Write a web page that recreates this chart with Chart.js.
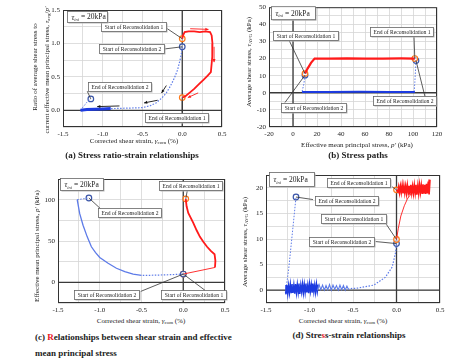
<!DOCTYPE html>
<html>
<head>
<meta charset="utf-8">
<script src="https://cdn.jsdelivr.net/npm/chart.js@4.4.1/dist/chart.umd.min.js"></script>
<style>
  body { margin: 0; width: 474px; height: 363px; background: #fff; position: relative; overflow: hidden;
         font-family: "Liberation Serif", "DejaVu Serif", serif; color: #222; }
  canvas { position: absolute; }
  .t { position: absolute; white-space: nowrap; font-size: 7px; line-height: 1; }
  .t sub { font-size: 5px; vertical-align: -1px; }
  .xl { transform: translate(-50%, -50%); }
  .yl { transform: translate(-50%, -50%) rotate(-90deg); }
  .cap { font-weight: bold; font-size: 9px; }
</style>
</head>
<body>
<canvas id="ca" width="237" height="140" style="left:0;top:0"></canvas>
<canvas id="cb" width="237" height="140" style="left:237px;top:0"></canvas>
<canvas id="cc" width="237" height="150" style="left:0;top:165px"></canvas>
<canvas id="cd" width="237" height="150" style="left:237px;top:165px"></canvas>

<!-- axis titles and captions -->
<div class="t yl" style="left:35px;top:67px">Ratio of average shear stress to</div>
<div class="t yl" style="left:47px;top:70px">current effective mean principal stress, <i>τ</i><sub>avg</sub>/<i>p'</i></div>
<div class="t xl" style="left:134px;top:141px">Corrected shear strain, <i>γ</i><sub>com</sub> (%)</div>
<div class="t xl cap" style="left:132px;top:155px">(a) Stress ratio-strain relationships</div>

<div class="t yl" style="left:249px;top:62px">Average shear stress, <i>τ</i><sub>AVG</sub> (kPa)</div>
<div class="t xl" style="left:357px;top:145px">Effective mean principal stress, <i>p'</i> (kPa)</div>
<div class="t xl cap" style="left:358px;top:155px">(b) Stress paths</div>

<div class="t yl" style="left:37px;top:246px">Effective mean principal stress, <i>p'</i> (kPa)</div>
<div class="t xl" style="left:141px;top:321px">Corrected shear strain, <i>γ</i><sub>com</sub> (%)</div>
<div class="t cap" style="left:35px;top:333px">(c) <span style="color:#e8141e">R</span>elationships between shear strain and effective</div>
<div class="t cap" style="left:35px;top:349px">mean principal stress</div>

<div class="t yl" style="left:245px;top:242px">Average shear stress, <i>τ</i><sub>AVG</sub> (kPa)</div>
<div class="t xl" style="left:343px;top:321px">Corrected shear strain, <i>γ</i><sub>com</sub> (%)</div>
<div class="t xl cap" style="left:349px;top:335px">(d) Stre<span style="color:#e8141e">s</span>s-strain relationships</div>

<script>
// ---- (a) stress ratio vs corrected shear strain ----
const aRedX = [0.0, 0.01, 0.03, 0.08, 0.15, 0.22, 0.29, 0.35, 0.37, 0.38, 0.38, 0.375, 0.37, 0.36, 0.32, 0.27, 0.21, 0.15, 0.09, 0.04, 0.0];
const aRedY = [1.07, 1.12, 1.17, 1.18, 1.18, 1.17, 1.18, 1.17, 1.12, 1.0, 0.9, 0.8, 0.7, 0.57, 0.52, 0.46, 0.39, 0.32, 0.26, 0.21, 0.19];
const aBlueX = [0.0, -0.01, -0.03, -0.06, -0.1, -0.15, -0.2, -0.26, -0.33, -0.4, -0.5, -0.6, -0.75, -0.9];
const aBlueY = [0.95, 0.85, 0.74, 0.6, 0.48, 0.36, 0.26, 0.18, 0.11, 0.07, 0.04, 0.035, 0.03, 0.025];
const aBandX = [-0.9, -1.0, -1.1, -1.2, -1.28];
const aBandY = [0.025, 0.02, 0.015, 0.01, 0.0];
const aBackX = [-1.28, -1.24, -1.2, -1.15];
const aBackY = [0.0, 0.06, 0.12, 0.17];

// ---- (b) stress paths ----
const bRedX = [10, 12, 15, 18, 30, 45, 60, 75, 90, 101.5];
const bRedY = [11.2, 14, 17.5, 20, 20, 20.1, 19.9, 20, 20.1, 20];
const bBlueDownX = [10, 9, 7.5];
const bBlueDownY = [10.3, 5, 0.5];
const bBlueX = [7.5, 30, 55, 80, 101.5];
const bBlueY = [0.5, 0.5, 0.6, 0.5, 0.5];
const bBlueUpX = [101, 101.5, 102, 102.5];
const bBlueUpY = [0.5, 6, 12, 18.8];

// ---- (c) strain vs effective mean principal stress ----
const cRedThinX = [0.0, 0.38];
const cRedThinY = [10, 18];
const cRedX = [0.38, 0.385, 0.375, 0.33, 0.285, 0.24, 0.2, 0.16, 0.12, 0.09, 0.06, 0.04, 0.03];
const cRedY = [18, 26, 34, 38, 43, 49, 55, 63, 72, 78, 84, 92, 101];
const cBlueDotX = [0.0, -0.1, -0.2, -0.3, -0.4, -0.5];
const cBlueDotY = [10, 9.5, 9.1, 8.8, 8.5, 8.3];
const cBlueX = [-0.5, -0.6, -0.7, -0.8, -0.9, -1.0, -1.05, -1.1, -1.15, -1.2, -1.24, -1.27];
const cBlueY = [8.3, 10, 13, 17, 23, 30, 36, 43, 55, 69, 83, 100];
const cBlueTopX = [-1.27, -1.2, -1.13];
const cBlueTopY = [100, 101, 102];

// ---- (d) stress vs strain ----
const dRedX = [0.0, 0.02, 0.05, 0.09, 0.13, 0.18];
const dRedY = [9.9, 12, 14.5, 16.5, 18, 19];
const dRedBandX = [0.385, 0.375, 0.365, 0.355, 0.345, 0.335, 0.325, 0.315, 0.305, 0.295, 0.285, 0.275, 0.265,
  0.255, 0.245, 0.235, 0.225, 0.215, 0.205, 0.195, 0.185, 0.175, 0.165, 0.155, 0.145, 0.135, 0.125, 0.115,
  0.105, 0.095, 0.085, 0.075, 0.065, 0.055, 0.045, 0.035, 0.025, 0.015, 0.0];
const dRedBandY = [21.6, 18.7, 21.2, 18.9, 20.8, 18.8, 20.6, 19.0, 20.7, 18.8, 20.5, 19.1, 20.6,
  18.9, 20.4, 18.8, 20.6, 19.0, 20.5, 18.9, 20.3, 19.0, 20.6, 18.8, 20.4, 19.1, 20.5, 18.9,
  20.3, 19.0, 20.4, 18.9, 20.5, 19.1, 20.3, 19.0, 20.2, 19.2, 19.6];
const dBlueDotX = [0.0, -0.01, -0.05, -0.13, -0.26, -0.45, -0.55];
const dBlueDotY = [9.1, 7.4, 4.5, 2.5, 1.0, 0.4, 0.3];
const dBandLightX = [-0.55, -0.57, -0.59, -0.61, -0.63, -0.65, -0.67, -0.69, -0.71, -0.73, -0.75, -0.77, -0.79,
  -0.81, -0.83, -0.85, -0.87, -0.89, -0.91];
const dBandLightY = [0.1, 0.8, 0.0, 0.9, 0.1, 1.0, 0.0, 0.9, 0.2, 1.0, 0.0, 1.1, 0.1, 0.9, 0.0, 1.0, 0.1, 1.1, 0.0];
const dBandX = [-0.9, -0.91, -0.92, -0.93, -0.94, -0.95, -0.96, -0.97, -0.98, -0.99, -1.0, -1.01, -1.02, -1.03,
  -1.04, -1.05, -1.06, -1.07, -1.08, -1.09, -1.1, -1.11, -1.12, -1.13, -1.14, -1.15, -1.16, -1.17, -1.18,
  -1.19, -1.2, -1.21, -1.22, -1.23, -1.24, -1.25, -1.26, -1.27, -1.275];
const dBandY = [1.1, -0.2, 1.2, -0.4, 1.0, -0.3, 1.3, -0.5, 1.1, -0.2, 1.2, -0.6, 1.0, -0.3, 1.3, -0.4, 1.1,
  -0.5, 1.2, -0.3, 1.0, -0.6, 1.3, -0.4, 1.1, -0.5, 1.2, -0.7, 1.0, -0.4, 1.2, -0.6, 1.1, -0.5, 0.9, -0.7,
  1.0, -0.8, -0.3];
const dBackX = [-1.275, -1.24, -1.21, -1.18, -1.155];
const dBackY = [-0.3, 4, 9, 14, 18.2];

const RED = '#ff1a1a', BLUE = '#1d3be0', BLUE_L = '#5d7be8', ORANGE = '#ff7a1a', BLUE_M = '#3a55a8';
const first = (xs, ys) => ({ x: xs[0], y: ys[0] });
const last = (xs, ys) => ({ x: xs[xs.length - 1], y: ys[ys.length - 1] });

function pts(xs, ys) { return xs.map((x, i) => ({ x, y: ys[i] })); }
function line(xs, ys, color, width, dash) {
  return { data: pts(xs, ys), showLine: true, borderColor: color, borderWidth: width,
           borderDash: dash || [], pointRadius: 0, fill: false, tension: 0 };
}
function marker(p, color) {
  return { data: [p], showLine: false, pointRadius: 2.8, pointBorderWidth: 1.2,
           pointBorderColor: color, pointBackgroundColor: 'rgba(255,255,255,0.55)' };
}

// frame, zero lines, callouts, tau box
const decor = {
  id: 'decor',
  beforeDatasetsDraw(chart) {
    const { ctx, chartArea: a, scales: { x, y } } = chart;
    const x0 = x.getPixelForValue(0), y0 = y.getPixelForValue(0);
    ctx.save();
    ctx.strokeStyle = '#3a3a3a';
    ctx.lineWidth = 1.3;
    ctx.beginPath();
    ctx.moveTo(x0, a.top); ctx.lineTo(x0, a.bottom);
    ctx.moveTo(a.left, y0); ctx.lineTo(a.right, y0);
    ctx.stroke();
    ctx.restore();
  },
  afterDatasetsDraw(chart, args, o) {
    const { ctx, chartArea: a, scales: { x, y } } = chart;
    ctx.save();
    ctx.strokeStyle = '#333';
    ctx.lineWidth = 1;
    ctx.strokeRect(a.left + 0.5, a.top + 0.5, a.right - a.left - 1, a.bottom - a.top - 1);

    (o.arrows || []).forEach(r => {
      const x1 = x.getPixelForValue(r.x1), y1 = y.getPixelForValue(r.y1);
      const x2 = x.getPixelForValue(r.x2), y2 = y.getPixelForValue(r.y2);
      const ang = Math.atan2(y2 - y1, x2 - x1);
      ctx.strokeStyle = r.c; ctx.fillStyle = r.c; ctx.lineWidth = 0.9;
      ctx.beginPath(); ctx.moveTo(x1, y1); ctx.lineTo(x2, y2); ctx.stroke();
      ctx.beginPath();
      ctx.moveTo(x2, y2);
      ctx.lineTo(x2 - 3.5 * Math.cos(ang - 0.45), y2 - 3.5 * Math.sin(ang - 0.45));
      ctx.lineTo(x2 - 3.5 * Math.cos(ang + 0.45), y2 - 3.5 * Math.sin(ang + 0.45));
      ctx.closePath(); ctx.fill();
    });

    ctx.font = '5.6px "Liberation Serif"';
    ctx.textAlign = 'center';
    ctx.textBaseline = 'middle';
    (o.notes || []).forEach(n => {
      const cx = x.getPixelForValue(n.x), cy = y.getPixelForValue(n.y);
      ctx.strokeStyle = '#333'; ctx.lineWidth = 0.8;
      ctx.beginPath();
      ctx.moveTo(x.getPixelForValue(n.ax), y.getPixelForValue(n.ay));
      ctx.lineTo(x.getPixelForValue(n.t.x), y.getPixelForValue(n.t.y));
      ctx.stroke();
      const w = Math.round(ctx.measureText(n.text).width + 6), h = 9;
      const bx = Math.round(cx - w / 2) + 0.5, by = Math.round(cy - h / 2) + 0.5;
      ctx.fillStyle = '#b8b8b8'; ctx.fillRect(bx + 1, by + 1, w, h);
      ctx.fillStyle = '#fff'; ctx.fillRect(bx, by, w, h);
      ctx.strokeStyle = '#666'; ctx.lineWidth = 0.8; ctx.strokeRect(bx, by, w, h);
      ctx.fillStyle = '#222'; ctx.fillText(n.text, bx + w / 2, by + h / 2 + 0.5);
    });

    if (o.tau) {
      const t = o.tau, bx = a.left + t.dx + 0.5, by = a.top + t.dy + 0.5;
      ctx.fillStyle = '#b8b8b8'; ctx.fillRect(bx + 1, by + 1, t.w, t.h);
      ctx.fillStyle = '#fff'; ctx.fillRect(bx, by, t.w, t.h);
      ctx.strokeStyle = '#666'; ctx.strokeRect(bx, by, t.w, t.h);
      ctx.fillStyle = '#222'; ctx.textAlign = 'left';
      const ty = by + t.h / 2 + 0.5;
      let px = bx + 4;
      ctx.font = 'italic 8px "Liberation Serif"'; ctx.fillText('τ', px, ty); px += ctx.measureText('τ').width;
      ctx.font = 'italic 4.5px "Liberation Serif"'; ctx.fillText('ini', px, ty + 2.5); px += ctx.measureText('ini').width;
      ctx.font = '7.5px "Liberation Serif"'; ctx.fillText(' = 20kPa', px, ty);
    }
    ctx.restore();
  }
};

function axis(min, max, step, major, dec, fit, isX) {
  return {
    type: 'linear', min, max,
    border: { display: false },
    grid: { color: '#d6d6d6', lineWidth: 0.8, drawTicks: false },
    ticks: {
      stepSize: step, autoSkip: false, maxRotation: 0, padding: 3,
      color: '#222', font: { family: 'Liberation Serif', size: 7 },
      callback: (v) => Math.abs(v / major - Math.round(v / major)) < 1e-6 ? (Math.abs(v) < 1e-9 ? 0 : v).toFixed(dec) : ''
    },
    afterFit: (s) => { if (isX) s.height = fit; else s.width = fit; }
  };
}

function make(id, datasets, xa, ya, pad, decorOpts) {
  new Chart(document.getElementById(id), {
    type: 'scatter',
    data: { datasets },
    options: {
      responsive: false, animation: false, events: [],
      layout: { padding: pad },
      plugins: { legend: { display: false }, tooltip: { enabled: false }, decor: decorOpts },
      scales: { x: xa, y: ya }
    },
    plugins: [decor]
  });
}

// (a)
const aS1 = first(aRedX, aRedY), aE1 = last(aRedX, aRedY);
const aS2 = first(aBlueX, aBlueY), aE2 = last(aBackX, aBackY);
make('ca', [
  line(aBandX, aBandY, BLUE, 3),
  line(aBlueX, aBlueY, BLUE_L, 1.2, [1.5, 1.5]),
  line(aBackX, aBackY, BLUE_L, 1, [1.5, 1.5]),
  line(aRedX, aRedY, RED, 1.8),
  marker(aS1, ORANGE), marker(aE1, ORANGE), marker(aS2, BLUE_M), marker(aE2, BLUE_M)
], axis(-1.5, 0.5, 0.25, 0.5, 1, 13, true), axis(-0.25, 1.5, 0.25, 0.5, 1, 63, false),
{ left: 0, top: 10, right: 15, bottom: 0 }, {
  tau: { dx: 4, dy: 1, w: 40, h: 11 },
  arrows: [
    { x1: -0.2, y1: 0.37, x2: -0.26, y2: 0.26, c: '#111' },
    { x1: -0.31, y1: 0.15, x2: -0.48, y2: 0.11, c: '#111' },
    { x1: -0.79, y1: 0.065, x2: -1.07, y2: 0.055, c: '#111' },
    { x1: 0.1, y1: 1.22, x2: 0.33, y2: 1.21, c: RED },
    { x1: 0.4, y1: 0.95, x2: 0.4, y2: 0.72, c: RED },
    { x1: 0.2, y1: 0.26, x2: 0.07, y2: 0.19, c: RED }
  ],
  notes: [
    { text: 'Start of Reconsolidation 1', x: -0.61, y: 1.248, ax: -0.2, ay: 1.23, t: aS1 },
    { text: 'Start of Reconsolidation 2', x: -0.635, y: 0.917, ax: -0.226, ay: 0.917, t: aS2 },
    { text: 'End of Reconsolidation 2', x: -0.79, y: 0.36, ax: -1.195, ay: 0.285, t: aE2 },
    { text: 'End of Reconsolidation 1', x: -0.07, y: -0.105, ax: 0, ay: -0.03, t: aE1 }
  ]
});

// (b)
const bS1 = first(bRedX, bRedY), bE1 = last(bRedX, bRedY);
const bS2 = first(bBlueDownX, bBlueDownY), bE2 = last(bBlueUpX, bBlueUpY);
make('cb', [
  line(bBlueDownX, bBlueDownY, BLUE_L, 1, [1.5, 1.5]),
  line(bBlueX, bBlueY, BLUE, 2),
  line(bBlueUpX, bBlueUpY, BLUE_L, 1, [1.5, 1.5]),
  line(bRedX, bRedY, RED, 2.2),
  marker(bS1, ORANGE), marker(bE1, ORANGE), marker(bS2, BLUE_M), marker(bE2, BLUE_M)
], axis(-20, 120, 10, 20, 0, 13, true), axis(-20, 50, 5, 10, 0, 32, false),
{ left: 0, top: 3, right: 37, bottom: 0 }, {
  tau: { dx: 2, dy: -1, w: 44, h: 13 },
  notes: [
    { text: 'Start of Reconsolidation 1', x: 10, y: 33.5, ax: -3.3, ay: 30.7, t: bS1 },
    { text: 'Start of Reconsolidation 2', x: 16.7, y: -8.5, ax: -6.7, ay: -5.7, t: bS2 },
    { text: 'End of Reconsolidation 1', x: 90.8, y: 35.8, ax: 100.8, ay: 33.5, t: bE1 },
    { text: 'End of Reconsolidation 2', x: 93.3, y: -4.5, ax: 110, ay: -2.3, t: bE2 }
  ]
});

// (c)
const cS1 = first(cRedThinX, cRedThinY), cE1 = last(cRedX, cRedY);
const cS2 = first(cBlueDotX, cBlueDotY), cE2 = last(cBlueTopX, cBlueTopY);
make('cc', [
  line(cBlueDotX, cBlueDotY, BLUE_L, 1.2, [1.5, 1.5]),
  line(cBlueX, cBlueY, BLUE_L, 1.3),
  line(cBlueTopX, cBlueTopY, BLUE_L, 1, [1.5, 1.5]),
  line(cRedThinX, cRedThinY, RED, 0.9),
  line(cRedX, cRedY, RED, 1.8),
  marker(cS2, BLUE_M), marker(cS1, ORANGE), marker(cE1, ORANGE), marker(cE2, BLUE_M)
], axis(-1.5, 0.5, 0.25, 0.5, 1, 12, true), axis(-25, 125, 25, 50, 0, 58, false),
{ left: 0, top: 14, right: 12, bottom: 0 }, {
  tau: { dx: 2, dy: -1, w: 43, h: 12 },
  notes: [
    { text: 'End of Reconsolidation 1', x: 0.083, y: 117, ax: 0.05, ay: 112, t: cE1 },
    { text: 'End of Reconsolidation 2', x: -0.64, y: 84, ax: -0.99, ay: 89, t: cE2 },
    { text: 'Start of Reconsolidation 2', x: -0.92, y: -14.5, ax: -0.51, ay: -11, t: cS2 },
    { text: 'Start of Reconsolidation 1', x: 0.12, y: -14.5, ax: 0.26, ay: -9.6, t: cS1 }
  ]
});

// (d)
const dS1 = first(dRedX, dRedY), dE1 = last(dRedBandX, dRedBandY);
const dS2 = first(dBlueDotX, dBlueDotY), dE2 = last(dBackX, dBackY);
make('cd', [
  line(dBlueDotX, dBlueDotY, BLUE_L, 1.2, [1.5, 1.5]),
  line(dBandLightX, dBandLightY, BLUE_L, 1.1),
  line(dBandX, dBandY, BLUE, 1.5),
  line(dBackX, dBackY, BLUE_L, 1, [1.5, 1.5]),
  line(dRedX, dRedY, RED, 0.9),
  line(dRedBandX, dRedBandY, RED, 1.6),
  marker(dS1, ORANGE), marker(dE1, ORANGE), marker(dS2, BLUE_M), marker(dE2, BLUE_M)
], axis(-1.5, 0.5, 0.25, 0.5, 1, 12, true), axis(-2.5, 22.5, 2.5, 5, 0, 29, false),
{ left: 0, top: 10, right: 34, bottom: 0 }, {
  tau: { dx: 3, dy: -3, w: 45, h: 14 },
  notes: [
    { text: 'End of Reconsolidation 1', x: -0.44, y: 21, ax: -0.05, ay: 20.2, t: dE1 },
    { text: 'End of Reconsolidation 2', x: -0.58, y: 17.5, ax: -0.96, ay: 17.7, t: dE2 },
    { text: 'Start of Reconsolidation 1', x: -0.49, y: 14, ax: -0.13, ay: 13.2, t: dS1 },
    { text: 'Start of Reconsolidation 2', x: -0.63, y: 9.5, ax: -0.24, ay: 9.5, t: dS2 }
  ]
});
</script>
</body>
</html>
